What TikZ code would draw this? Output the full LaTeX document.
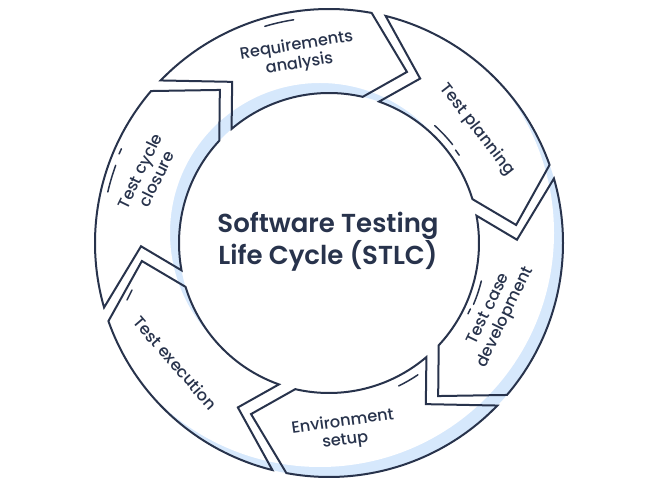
\documentclass[tikz,border=0pt]{standalone}
\usepackage{fontspec}
\setmainfont{Poppins Medium}
\newfontfamily\titlefont{Poppins SemiBold}
\definecolor{ink}{HTML}{28334C}
\definecolor{skyshade}{HTML}{D6E8FC}
\begin{document}
\begin{tikzpicture}[x=1pt,y=1pt,
  seg/.style={draw=ink, line width=2pt, line join=miter},
  deco/.style={draw=ink, line width=1.5pt, line cap=round},
  lbl/.style={text=ink, align=center, inner sep=0pt, font=\fontsize{16.2}{18.5}\selectfont},
  ttl/.style={text=ink, align=center, inner sep=0pt, font=\titlefont\fontsize{26}{29.5}\selectfont}]
\useasboundingbox (0,0) rectangle (664,485);
\fill[white] (0,0) rectangle (664,485);
\coordinate (c) at (329,242);
\coordinate (cs) at (320,252);
% blue shading crescents
\fill[skyshade, even odd rule] (c) circle[radius=234] (c) circle[radius=150];
\fill[white, even odd rule] (cs) circle[radius=234] (cs) circle[radius=150];
% ring of arrow segments
\foreach \p in {136,76,16,-44,-104,-164} {
  \pgfmathsetmacro{\ao}{\p-56.5}
  \pgfmathsetmacro{\at}{\p-70.5}
  \pgfmathsetmacro{\ai}{\p-59}
  \pgfmathsetmacro{\ni}{\p-5.5}
  \pgfmathsetmacro{\np}{\p-15}
  \draw[seg] ([shift={(c)}]\p:234) arc[start angle=\p, end angle=\ao, radius=234]
    -- ([shift={(c)}]\at:188) -- ([shift={(c)}]\ai:150)
    arc[start angle=\ai, end angle=\ni, radius=150]
    -- ([shift={(c)}]\np:188) -- cycle;
}
% highlight strokes
\draw[deco] ([shift={(c)}]106.5:226) arc[start angle=106.5, end angle=99, radius=226];
\draw[deco] ([shift={(c)}]48:158) arc[start angle=48, end angle=38.5, radius=158];
\draw[deco] ([shift={(c)}]36.3:157) arc[start angle=36.3, end angle=34, radius=157];
\draw[deco] ([shift={(c)}]-14:157) arc[start angle=-14, end angle=-23, radius=157];
\draw[deco] ([shift={(c)}]-25:156) arc[start angle=-25, end angle=-27, radius=156];
\draw[deco] ([shift={(c)}]-64:159) arc[start angle=-64, end angle=-56, radius=159];
\draw[deco] (127,185) -- (132,195);
\draw[deco] ([shift={(c)}]160:227) arc[start angle=160, end angle=167, radius=227];
\draw[deco] ([shift={(c)}]155.6:228) arc[start angle=155.6, end angle=157, radius=228];
% labels
\node[ttl] (title) at (328,243) {Software Testing\\Life Cycle (STLC)};
\node[lbl, rotate=9.3] (req) at (298,430) {Requirements\\analysis};
\node[lbl, rotate=-52] (plan) at (477,355) {Test planning};
\node[lbl, rotate=64] (tcd) at (497.5,171.5) {Test case\\development};
\node[lbl, rotate=8] (env) at (344,53.5) {Environment\\setup};
\node[lbl, rotate=-49] (exe) at (175.5,122) {Test execution};
\node[lbl, rotate=64] (clo) at (148,310) {Test cycle\\closure};
\end{tikzpicture}
\end{document}
